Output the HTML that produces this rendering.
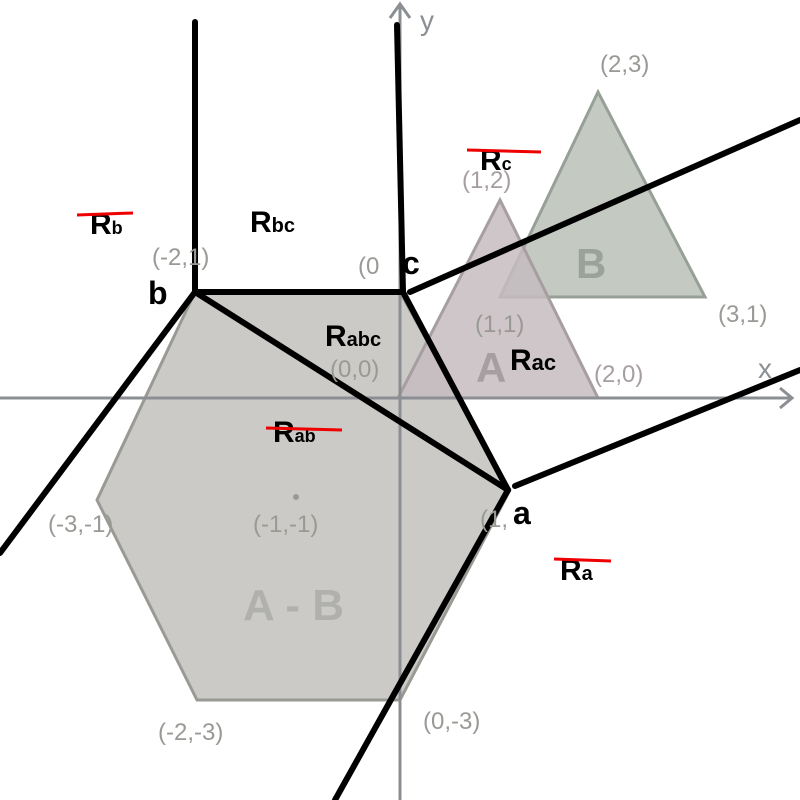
<!DOCTYPE html>
<html><head><style>body{margin:0;background:#fff}svg{display:block}</style></head><body>
<svg width="800" height="800" viewBox="0 0 800 800" font-family="Liberation Sans, sans-serif">
<rect width="800" height="800" fill="#fff"/>
<polygon points="195,292 400,292 510,490 400,700 197,700 97,500" fill="#cbcac6" stroke="#999a94" stroke-width="3"/>
<polygon points="500,297 705,297 598,92" fill="#c4cac2" stroke="#97a097" stroke-width="3"/>
<polygon points="398,398 598,398 500,200" fill="#c5bcc0" fill-opacity="0.85" stroke="#a79ea2" stroke-width="3"/>
<line x1="0" y1="398" x2="792" y2="398" stroke="#8b8f94" stroke-width="3"/>
<polyline points="780,388 792,398 780,408" fill="none" stroke="#8b8f94" stroke-width="3"/>
<line x1="400" y1="800" x2="400" y2="4" stroke="#8b8f94" stroke-width="3"/>
<polyline points="390,18 400,4 410,18" fill="none" stroke="#8b8f94" stroke-width="3"/>
<g stroke="#000" stroke-width="6" fill="none" stroke-linecap="round">
<line x1="195" y1="22" x2="195" y2="292"/>
<line x1="397" y1="25" x2="403" y2="292"/>
<line x1="195" y1="292" x2="403" y2="292"/>
<line x1="195" y1="292" x2="508" y2="490"/>
<line x1="403" y1="292" x2="508" y2="490"/>
<line x1="195" y1="292" x2="0" y2="553"/>
<line x1="410" y1="292" x2="800" y2="120"/>
<line x1="515" y1="486" x2="800" y2="370"/>
<line x1="508" y1="490" x2="335" y2="800"/>
</g>
<g fill="#999a94" font-size="24">
<text x="600" y="72">(2,3)</text>
<text x="462" y="188" fill="#a79ea2">(1,2)</text>
<text x="152" y="265">(-2,1)</text>
<text x="358" y="274">(0</text>
<text x="475" y="332">(1,1)</text>
<text x="718" y="322">(3,1)</text>
<text x="330" y="377">(0,0)</text>
<text x="594" y="382" fill="#a79ea2">(2,0)</text>
<text x="48" y="532">(-3,-1)</text>
<text x="253" y="532">(-1,-1)</text>
<text x="480" y="527">(1,</text>
<text x="158" y="740">(-2,-3)</text>
<text x="423" y="729">(0,-3)</text>
<text x="576" y="278" font-size="42" font-weight="bold" fill="#9ba398">B</text>
<text x="476" y="382" font-size="42" font-weight="bold" fill="#a79ea2">A</text>
<text x="243" y="620" font-size="44" font-weight="bold" fill="#b0b0ac">A - B</text>
<text x="420" y="30" font-size="28" fill="#8b8f94">y</text>
<text x="758" y="378" font-size="28" fill="#8b8f94">x</text>
</g>
<circle cx="296" cy="497" r="3" fill="#999a94"/>
<g fill="#000" font-size="30" font-weight="bold">
<text x="148" y="304" font-size="32">b</text>
<text x="402" y="274" font-size="32">c</text>
<text x="513" y="524" font-size="32">a</text>
<text x="250" y="232">R<tspan font-size="20">bc</tspan></text>
<text x="325" y="346">R<tspan font-size="20">abc</tspan></text>
<text x="510" y="370">R<tspan font-size="22">ac</tspan></text>
<text x="90" y="234">R<tspan font-size="18">b</tspan></text>
<text x="480" y="170">R<tspan font-size="18">c</tspan></text>
<text x="273" y="442">R<tspan font-size="18">ab</tspan></text>
<text x="560" y="580">R<tspan font-size="20">a</tspan></text>
</g>
<g stroke="#e00" stroke-width="3">
<line x1="77" y1="215" x2="133" y2="213"/>
<line x1="467" y1="150" x2="541" y2="152"/>
<line x1="266" y1="428" x2="342" y2="430"/>
<line x1="554" y1="559" x2="611" y2="561"/>
</g>
</svg>
</body></html>
